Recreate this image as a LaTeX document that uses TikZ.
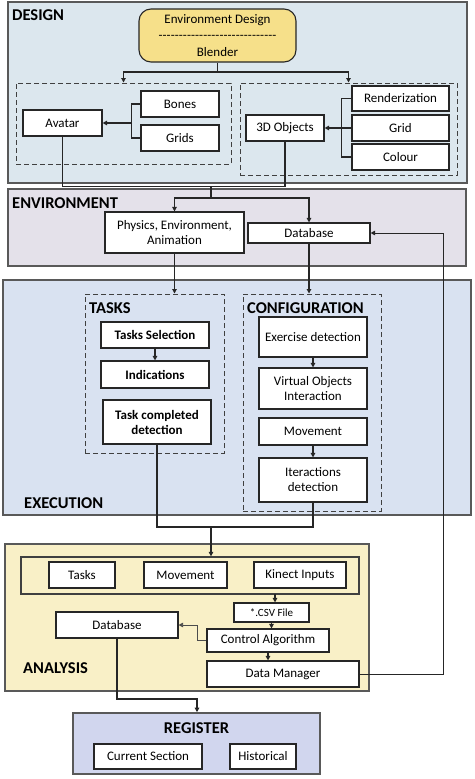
\documentclass[tikz,border=0pt]{standalone}
\usepackage{fontspec}
\setmainfont{Carlito}
\usetikzlibrary{arrows.meta}
\definecolor{designfill}{HTML}{DCE7EE}
\definecolor{envfill}{HTML}{E4E1EA}
\definecolor{execfill}{HTML}{D9E2F1}
\definecolor{anafill}{HTML}{F9F0C7}
\definecolor{regfill}{HTML}{D1D6EE}
\definecolor{yel}{HTML}{F6E08A}
\tikzset{
 panel/.style={draw=black!65, line width=1.6pt, inner sep=0pt},
 grp/.style={draw=black!75, dash pattern=on 5pt off 3pt, line width=1pt, inner sep=0pt},
 bx/.style={draw=black!85, fill=white, line width=1.1pt, inner sep=1pt, align=center, font=\fontsize{13}{15}\selectfont},
 bbx/.style={bx, font=\fontsize{13}{15}\selectfont\bfseries},
 hd/.style={font=\fontsize{16.5}{18}\selectfont\bfseries, inner sep=0pt, anchor=west},
 sz/.style 2 args={minimum width=#1pt, minimum height=#2pt},
 arr/.style={-{Triangle[length=4.5pt,width=4.5pt]}, line width=1.1pt, draw=black!85},
 ln/.style={line width=1.1pt, draw=black!85},
}
\begin{document}
\begin{tikzpicture}[x=1pt,y=-1pt]
\useasboundingbox (0,0) rectangle (474,779);
% panels
\node[panel, fill=designfill, sz={459}{181}] (design) at (237.5,92.5) {};
\node[panel, fill=envfill, sz={458}{77}] (env) at (237,227.5) {};
\node[panel, fill=execfill, sz={468}{235}] (exec) at (237,397.5) {};
\node[panel, fill=anafill, sz={364}{147}] (ana) at (187,617.5) {};
\node[panel, fill=regfill, sz={247}{61}] (reg) at (196.5,743.5) {};
% headings
\node[hd] (hdesign) at (12,15.5) {DESIGN};
\node[hd] (henv) at (12,203) {ENVIRONMENT};
\node[hd] (htasks) at (89,308) {TASKS};
\node[hd] (hconf) at (247,308) {CONFIGURATION};
\node[hd] (hexec) at (24,503) {EXECUTION};
\node[hd] (hana) at (23,668) {ANALYSIS};
\node[hd, anchor=center] (hreg) at (196.5,728) {REGISTER};
% groups
\node[grp, sz={215}{81}] (avgrp) at (123.5,123.5) {};
\node[grp, sz={217}{92}] (objgrp) at (348.5,129) {};
\node[grp, sz={139}{159}] (tasksgrp) at (154.5,373.5) {};
\node[grp, sz={138}{217}] (confgrp) at (312,402.5) {};
\node[draw=black!75, line width=1.3pt, inner sep=0pt, sz={338}{37}] (ainner) at (190,575.5) {};
% design
\node[bx, fill=yel, rounded corners=12pt, sz={157}{53}, font=\fontsize{13}{16.5}\selectfont] (envd) at (217.5,35.5)
  {Environment Design\\\hbox to 118pt{\xleaders\hbox{-}\hfill}\\Blender};
\node[bx, sz={79}{26}] (avatar) at (62.5,123) {Avatar};
\node[bx, sz={78}{26}] (bones) at (180,104) {Bones};
\node[bx, sz={78}{26}] (grids) at (180,138) {Grids};
\node[bx, sz={78}{26}] (obj3d) at (285,128) {3D Objects};
\node[bx, sz={97}{25}] (rend) at (400.5,98.5) {Renderization};
\node[bx, sz={97}{26}] (grid) at (400.5,128) {Grid};
\node[bx, sz={97}{26}] (colour) at (400.5,157) {Colour};
% environment
\node[bx, sz={139}{41}] (phys) at (174.5,232.5) {Physics, Environment,\\Animation};
\node[bx, sz={122}{20}] (envdb) at (309,233) {Database};
% execution
\node[bbx, sz={108}{26}] (tsel) at (155,335) {Tasks Selection};
\node[bbx, sz={108}{27}] (ind) at (155,374.5) {Indications};
\node[bbx, sz={108}{44}] (tcomp) at (157,422) {Task completed\\detection};
\node[bx, sz={108}{40}] (exdet) at (313,337) {Exercise detection};
\node[bx, sz={108}{41}] (voi) at (313,388.5) {Virtual Objects\\Interaction};
\node[bx, sz={108}{27}] (mov) at (313,431.5) {Movement};
\node[bx, sz={108}{44}] (iter) at (313,480) {Iteractions\\detection};
% analysis
\node[bx, sz={66}{26}] (atasks) at (82,575) {Tasks};
\node[bx, sz={83}{26}] (amov) at (185.5,575) {Movement};
\node[bx, sz={92}{26}] (kin) at (300,575) {Kinect Inputs};
\node[bx, sz={75}{19}, font=\fontsize{11}{13}\selectfont] (csv) at (271.5,612.5) {*.CSV File};
\node[bx, sz={122}{23}] (ctrl) at (268,640.5) {Control Algorithm};
\node[bx, sz={122}{26}] (adb) at (117,625) {Database};
\node[bx, sz={152}{26}] (dm) at (283,674) {Data Manager};
% register
\node[bx, sz={108}{25}] (cur) at (148,756.5) {Current Section};
\node[bx, sz={66}{25}] (hist) at (263,756.5) {Historical};
% connectors
\coordinate (j1) at (217.5,72);
\draw[arr] (envd.south) -- (j1) -| (avgrp.north);
\draw[arr] (j1) -| (objgrp.north);
\draw[ln] (bones.west) -- ++(-9,0) |- (grids.west);
\coordinate (bA) at (132,123);
\draw[arr] (bA) -- (avatar.east);
\draw[ln] (rend.west) -- ++(-10,0) |- (colour.west);
\draw[arr] (grid.west) -- (obj3d.east);
\draw[ln] (avatar.south) -- ++(0,50) -| (obj3d.south);
\coordinate (j2) at (211,186);
\coordinate (j3) at (211,198);
\draw[arr] (j2) -- (j3) -| (phys.north);
\draw[arr] (j3) -| (envdb.north);
\draw[arr] (phys.south) -- (phys.south |- tasksgrp.north);
\draw[arr] (envdb.south) -- (envdb.south |- confgrp.north);
\draw[arr] (tsel) -- (ind);
\draw[arr] (exdet) -- (voi);
\draw[arr] (mov) -- (iter);
\coordinate (j4) at (211,527);
\draw[ln] (tcomp.south) |- (j4) -| (iter.south);
\draw[arr] (j4) -- (j4 |- ainner.north);
\coordinate (k1) at (275,594);
\draw[arr] (k1) -- (k1 |- csv.north);
\draw[arr] (csv.south) -- (csv.south |- ctrl.north);
\draw[arr, line width=0.8pt, draw=black!70] (ctrl.west) -- ++(-9,0) |- (adb.east);
\draw[arr] (ctrl.south) -- (ctrl.south |- dm.north);
\draw[arr, line width=0.9pt] (dm.east) -- ++(84,0) |- (envdb.east);
\coordinate (j5) at (197,699);
\draw[arr] (adb.south) |- (j5) -- (j5 |- reg.north);
\end{tikzpicture}
\end{document}
